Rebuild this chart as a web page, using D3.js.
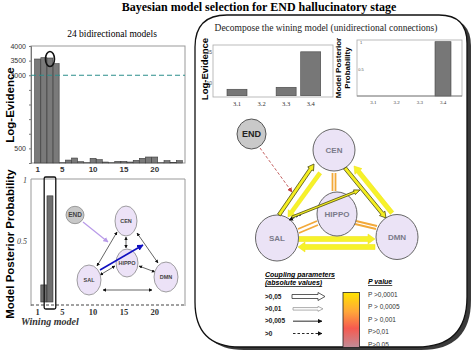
<!DOCTYPE html>
<html>
<head>
<meta charset="utf-8">
<script src="https://cdn.jsdelivr.net/npm/d3@7"></script>
<style>
  body { margin: 0; background: #fff; }
  svg { display: block; }
  text { font-family: "Liberation Sans", Arial, sans-serif; }
  .serif { font-family: "Liberation Serif", "Times New Roman", serif; }
</style>
</head>
<body>
<div id="chart"></div>
<script>
// ---- data ----
var models = d3.range(1, 25);
var logEvidence = [3555, 3600, 3590, 3395, 10, 100, 170, 44, 10, 160, 113, 33,
                   10, 56, 56, 33, 90, 160, 205, 205, 10, 79, 22, 79];
var posterior = [0, 0.14, 0.87, 0, 0, 0, 0, 0, 0, 0, 0, 0,
                 0, 0, 0, 0, 0, 0, 0, 0, 0, 0, 0, 0];
var modelTicks = [1, 5, 10, 15, 20];
var logEvTicks = [500, 1000, 1500, 2000, 2500, 3000, 3500, 4000];
var logEvLabels = [500, 3000, 3500, 4000];

var subModels = ["3.1", "3.2", "3.3", "3.4"];
var subLogEvidence = [5.2, 0, 6.8, 35.5];
var subPosterior = [0, 0, 0, 1];

var couplingLabels = [">0,05", ">0,01", ">0,005", ">0"];
var pLabels = ["P >0,0001", "P > 0,0005", "P > 0,001", "P>0,01", "P>0,05"];

var W = 474, H = 352;
var svg = d3.select("#chart").append("svg")
    .attr("width", W).attr("height", H);

var defs = svg.append("defs");
function marker(id, color, size){
    defs.append("marker")
        .attr("id", id)
        .attr("viewBox", "0 0 10 10")
        .attr("refX", 9).attr("refY", 5)
        .attr("markerWidth", size).attr("markerHeight", size)
        .attr("orient", "auto-start-reverse")
        .append("path").attr("d", "M0,0L10,5L0,10Z").attr("fill", color);
}
marker("blk", "#111", 5);
marker("blu", "#1010c0", 4);
marker("lil", "#b89ae8", 4);
marker("red", "#c04040", 5);

// title
svg.append("text").attr("class", "serif")
    .attr("x", 259).attr("y", 10.5)
    .attr("text-anchor", "middle")
    .attr("font-size", 12).attr("font-weight", "bold")
    .text("Bayesian model selection for END hallucinatory stage");

svg.append("text").attr("class", "serif")
    .attr("x", 112).attr("y", 37)
    .attr("text-anchor", "middle").attr("font-size", 9.5)
    .text("24 bidirectional models");

// ---------- left top: log evidence ----------
var x = d3.scaleLinear().domain([0, 25]).range([31.5, 185.5]);
var yLE = d3.scaleLinear().domain([0, 4000]).range([163, 46]);
var barW = 6;

var g1 = svg.append("g");
g1.append("rect").attr("x", 31).attr("y", 46).attr("width", 154).attr("height", 117)
    .attr("fill", "none").attr("stroke", "#999");

g1.append("g")
    .attr("transform", "translate(31,0)")
    .call(d3.axisLeft(yLE).tickValues(logEvTicks).tickSize(2)
        .tickFormat(function(d){ return logEvLabels.indexOf(d) >= 0 ? d : ""; }))
    .call(function(a){
        a.select(".domain").attr("stroke", "#777");
        a.selectAll("line").attr("stroke", "#777");
        a.selectAll("text").attr("font-size", 7).attr("fill", "#333");
    });

g1.selectAll(".le").data(logEvidence).join("rect")
    .attr("x", function(d, i){ return x(models[i]) - barW / 2; })
    .attr("y", function(d){ return yLE(d); })
    .attr("width", barW)
    .attr("height", function(d){ return yLE(0) - yLE(d); })
    .attr("fill", "#7a7a7a").attr("stroke", "#3a3a3a").attr("stroke-width", 0.6);

g1.append("line")
    .attr("x1", 31).attr("x2", 185).attr("y1", yLE(3000)).attr("y2", yLE(3000))
    .attr("stroke", "#2d8f8c").attr("stroke-width", 1.2).attr("stroke-dasharray", "5,3");

g1.append("ellipse").attr("cx", x(3)).attr("cy", yLE(3590) + 1)
    .attr("rx", 4.5).attr("ry", 7.5)
    .attr("fill", "none").attr("stroke", "#111").attr("stroke-width", 1.6);

g1.selectAll(".xt").data(modelTicks).join("text")
    .attr("x", function(d){ return x(d); }).attr("y", 172)
    .attr("text-anchor", "middle").attr("font-size", 8).attr("font-weight", "bold")
    .attr("fill", "#333").text(function(d){ return d; });

svg.append("text")
    .attr("transform", "translate(14,105) rotate(-90)")
    .attr("text-anchor", "middle").attr("font-size", 11.5).attr("font-weight", "bold")
    .text("Log-Evidence");

// ---------- left bottom: posterior ----------
var yPP = d3.scaleLinear().domain([0, 1]).range([302, 180]);
var g2 = svg.append("g");
g2.append("path").attr("d", "M31,306V179H185V306")
    .attr("fill", "none").attr("stroke", "#999");
g2.append("line").attr("x1", 31).attr("x2", 185).attr("y1", 305).attr("y2", 305)
    .attr("stroke", "#444").attr("stroke-width", 1.2).attr("stroke-dasharray", "3,2");

g2.selectAll(".pp").data(posterior).join("rect")
    .attr("x", function(d, i){ return x(models[i]) - barW / 2; })
    .attr("y", function(d){ return yPP(d); })
    .attr("width", barW)
    .attr("height", function(d){ return yPP(0) - yPP(d); })
    .attr("fill", "#6e6e6e").attr("stroke", "#333").attr("stroke-width", 0.6);

g2.append("rect").attr("x", x(3) - 5.8).attr("y", 177).attr("width", 11.6).attr("height", 132)
    .attr("rx", 1.5).attr("fill", "none").attr("stroke", "#111").attr("stroke-width", 1.3);

g2.selectAll(".yt").data([1, 0.5]).join("text").attr("class", "serif")
    .attr("x", 27).attr("y", function(d){ return yPP(d) + 3; })
    .attr("text-anchor", "end").attr("font-size", 8).attr("font-style", "italic")
    .attr("fill", "#444").text(function(d){ return d; });

g2.selectAll(".xt").data(modelTicks).join("text").attr("class", "serif")
    .attr("x", function(d){ return x(d); }).attr("y", 315)
    .attr("text-anchor", "middle").attr("font-size", 8.5).attr("font-weight", "bold")
    .attr("fill", "#333").text(function(d){ return d; });

svg.append("text").attr("class", "serif")
    .attr("x", 21).attr("y", 325)
    .attr("font-size", 10).attr("font-style", "italic").attr("font-weight", "bold")
    .attr("fill", "#333").text("Wining model");

svg.append("text")
    .attr("transform", "translate(14,244) rotate(-90)")
    .attr("text-anchor", "middle").attr("font-size", 11.5).attr("font-weight", "bold")
    .text("Model Posterior Probability");

// small network inset
var small = {
    END: {x: 75, y: 215, rx: 9, ry: 8.7, fill: "#c8c8c8"},
    CEN: {x: 126, y: 221, rx: 11, ry: 15, fill: "#ece2f7"},
    HIPPO: {x: 127, y: 263, rx: 11, ry: 14, fill: "#ece2f7"},
    SAL: {x: 89, y: 280, rx: 12, ry: 15, fill: "#ece2f7"},
    DMN: {x: 166, y: 277, rx: 12, ry: 15, fill: "#ece2f7"}
};
var gs = svg.append("g");
var smallLinks = [
    [97, 266, 117, 232], [137, 233, 158, 263], [126, 237, 126, 248],
    [100, 275, 115, 266], [139, 266, 155, 272], [103, 290, 152, 290]
];
gs.selectAll(".sl").data(smallLinks).join("line")
    .attr("x1", function(d){ return d[0]; }).attr("y1", function(d){ return d[1]; })
    .attr("x2", function(d){ return d[2]; }).attr("y2", function(d){ return d[3]; })
    .attr("stroke", "#222").attr("stroke-width", 0.7)
    .attr("marker-start", "url(#blk)").attr("marker-end", "url(#blk)");
gs.append("line").attr("x1", 83).attr("y1", 222).attr("x2", 108).attr("y2", 242)
    .attr("stroke", "#b89ae8").attr("stroke-width", 1.3).attr("marker-end", "url(#lil)");
Object.keys(small).forEach(function(k){
    var n = small[k];
    gs.append("ellipse").attr("cx", n.x).attr("cy", n.y).attr("rx", n.rx).attr("ry", n.ry)
        .attr("fill", n.fill).attr("stroke", "#888").attr("stroke-width", 0.8);
    gs.append("text").attr("x", n.x).attr("y", n.y + 2.2).attr("text-anchor", "middle")
        .attr("font-size", k == "END" ? 6.5 : 5.5).attr("font-weight", "bold")
        .attr("fill", "#444").text(k);
});
gs.append("line").attr("x1", 100).attr("y1", 270).attr("x2", 143).attr("y2", 245)
    .attr("stroke", "#1010c0").attr("stroke-width", 1.6).attr("marker-end", "url(#blu)");

// ---------- right panel ----------
var L = 195, T = 15, R = 467, B = 347;
function panelPath(dx, dy){
    var l = L + dx, t = T + dy, r = R + dx, b = B + dy;
    return "M" + (l + 32) + "," + t + "H" + (r - 28) +
        "Q" + r + "," + t + " " + r + "," + (t + 28) +
        "V" + (b - 50) + "Q" + r + "," + b + " " + (r - 50) + "," + b +
        "H" + (l + 45) + "Q" + l + "," + b + " " + l + "," + (b - 45) +
        "V" + (t + 32) + "Q" + l + "," + t + " " + (l + 32) + "," + t + "Z";
}
svg.append("path").attr("d", panelPath(4, 3)).attr("fill", "#3a3a3a");
svg.append("path").attr("d", panelPath(0, 0)).attr("fill", "#fff")
    .attr("stroke", "#111").attr("stroke-width", 1.3);

svg.append("text").attr("class", "serif")
    .attr("x", 326).attr("y", 31).attr("text-anchor", "middle").attr("font-size", 9.5)
    .attr("fill", "#222").text("Decompose the wining model (unidirectional connections)");

// inner log evidence
var xa = d3.scaleLinear().domain([3.1, 3.4]).range([237, 310.7]);
var ya = d3.scaleLinear().domain([0, 41]).range([95.7, 45]);
var ga = svg.append("g");
ga.append("rect").attr("x", 213).attr("y", 45).attr("width", 120).attr("height", 52)
    .attr("fill", "none").attr("stroke", "#aaa").attr("stroke-width", 0.8);
ga.selectAll("rect.b").data(subLogEvidence).join("rect").attr("class", "b")
    .attr("x", function(d, i){ return xa(+subModels[i]) - 10; })
    .attr("y", function(d){ return ya(d); })
    .attr("width", 20)
    .attr("height", function(d){ return ya(0) - ya(d); })
    .attr("fill", "#777").attr("stroke", "#444").attr("stroke-width", 0.6);
ga.selectAll(".yt").data([35, 10]).join("text")
    .attr("x", 212).attr("y", function(d){ return ya(d) + 2; })
    .attr("text-anchor", "end").attr("font-size", 5).attr("fill", "#555")
    .text(function(d){ return d; });
ga.selectAll(".xt").data(subModels).join("text").attr("class", "serif")
    .attr("x", function(d){ return xa(+d); }).attr("y", 106)
    .attr("text-anchor", "middle").attr("font-size", 6.5).attr("fill", "#333")
    .text(function(d){ return d; });
svg.append("text")
    .attr("transform", "translate(208,69) rotate(-90)")
    .attr("text-anchor", "middle").attr("font-size", 9.5).attr("font-weight", "bold")
    .text("Log-Evidence");

// inner posterior
var xb = d3.scaleLinear().domain([3.1, 3.4]).range([373.3, 443]);
var yb = d3.scaleLinear().domain([0, 1]).range([96, 41.7]);
var gb = svg.append("g");
gb.append("rect").attr("x", 357).attr("y", 40).attr("width", 105).attr("height", 56)
    .attr("fill", "none").attr("stroke", "#aaa").attr("stroke-width", 0.8);
gb.selectAll("rect.b").data(subPosterior).join("rect").attr("class", "b")
    .attr("x", function(d, i){ return xb(+subModels[i]) - 8; })
    .attr("y", function(d){ return yb(d); })
    .attr("width", 16)
    .attr("height", function(d){ return yb(0) - yb(d); })
    .attr("fill", "#777").attr("stroke", "#444").attr("stroke-width", 0.6);
gb.append("line").attr("x1", 357).attr("x2", 462).attr("y1", 96).attr("y2", 96)
    .attr("stroke", "#777").attr("stroke-width", 0.8);
gb.selectAll(".yt").data([1, 0.5]).join("text")
    .attr("x", 361).attr("y", function(d){ return yb(d) + 2; })
    .attr("text-anchor", "middle").attr("font-size", 4).attr("fill", "#555")
    .text(function(d){ return d; });
gb.selectAll(".xt").data(subModels).join("text").attr("class", "serif")
    .attr("x", function(d){ return xb(+d); }).attr("y", 104)
    .attr("text-anchor", "middle").attr("font-size", 5).attr("fill", "#333")
    .text(function(d){ return d; });
svg.append("text")
    .attr("transform", "translate(343,68) rotate(-90)")
    .attr("text-anchor", "middle").attr("font-size", 8).attr("font-weight", "bold")
    .selectAll("tspan").data(["Model Posterior", "Probability"]).join("tspan")
    .attr("x", 0).attr("dy", function(d, i){ return i ? 9 : -2; }).text(function(d){ return d; });

// big network
function blockArrow(x1, y1, x2, y2, w, hw, hl){
    var dx = x2 - x1, dy = y2 - y1, len = Math.hypot(dx, dy);
    var ux = dx / len, uy = dy / len, nx = -uy, ny = ux;
    var pts = [[0, w / 2], [len - hl, w / 2], [len - hl, hw / 2], [len, 0],
               [len - hl, -hw / 2], [len - hl, -w / 2], [0, -w / 2]];
    return "M" + pts.map(function(p){
        return [x1 + ux * p[0] + nx * p[1], y1 + uy * p[0] + ny * p[1]].join(",");
    }).join("L") + "Z";
}
var gn = svg.append("g");
// bright yellow (no outline)
var brightLinks = [
    [320, 173, 288, 217, 4, 8, 6], [392, 213, 354, 166, 4.5, 9, 7],
    [298, 239, 375, 239, 5, 10, 7], [375, 247, 298, 247, 5, 10, 7]
];
gn.selectAll(".bright").data(brightLinks).join("path")
    .attr("d", function(d){ return blockArrow(d[0], d[1], d[2], d[3], d[4], d[5], d[6]); })
    .attr("fill", "#f6f22a").attr("stroke", "#f0e010").attr("stroke-width", 0.5);
// orange short links
var orangeLinks = [
    [332.5, 173, 332.5, 191], [335.5, 173, 335.5, 191],
    [298, 229, 317, 221], [299, 233, 318, 225],
    [356, 221, 377, 226], [355, 224, 376, 229]
];
gn.selectAll(".org").data(orangeLinks).join("line")
    .attr("x1", function(d){ return d[0]; }).attr("y1", function(d){ return d[1]; })
    .attr("x2", function(d){ return d[2]; }).attr("y2", function(d){ return d[3]; })
    .attr("stroke", "#f2a93a").attr("stroke-width", 1.8);
// red dashed END input
gn.append("line").attr("x1", 260).attr("y1", 148).attr("x2", 292).attr("y2", 192)
    .attr("stroke", "#c46060").attr("stroke-width", 1).attr("stroke-dasharray", "3,2")
    .attr("marker-end", "url(#red)");

var big = {
    END: {x: 251.5, y: 134, rx: 14.5, ry: 15, fill: "#c9c9c9", stroke: "#555"},
    CEN: {x: 334, y: 150, rx: 21, ry: 21, fill: "#ebe3f6", stroke: "#666"},
    HIPPO: {x: 337, y: 214, rx: 20, ry: 22, fill: "#ebe3f6", stroke: "#666"},
    SAL: {x: 277, y: 238, rx: 21.5, ry: 23, fill: "#ebe3f6", stroke: "#666"},
    DMN: {x: 397, y: 237, rx: 21, ry: 22.5, fill: "#ebe3f6", stroke: "#666"}
};
Object.keys(big).forEach(function(k){
    var n = big[k];
    gn.append("ellipse").attr("cx", n.x).attr("cy", n.y).attr("rx", n.rx).attr("ry", n.ry)
        .attr("fill", n.fill).attr("stroke", n.stroke).attr("stroke-width", 1);
    gn.append("text").attr("x", n.x).attr("y", n.y + 3).attr("text-anchor", "middle")
        .attr("font-size", k == "END" ? 9 : 8).attr("font-weight", "bold")
        .attr("fill", k == "END" ? "#222" : "#7a7a8a").text(k);
});
// outlined yellow arrows (on top)
var outlinedLinks = [
    [279, 215, 314, 164, 3.5, 7, 6], [345, 168, 386, 218, 3.5, 7, 6],
    [292, 217, 360, 190, 2, 5, 6]
];
gn.selectAll(".outl").data(outlinedLinks).join("path")
    .attr("d", function(d){ return blockArrow(d[0], d[1], d[2], d[3], d[4], d[5], d[6]); })
    .attr("fill", "#f4ee20").attr("stroke", "#4a4a10").attr("stroke-width", 0.8);
gn.append("line").attr("x1", 301).attr("y1", 215).attr("x2", 289).attr("y2", 220)
    .attr("stroke", "#222").attr("stroke-width", 0.9).attr("stroke-dasharray", "2,1.5")
    .attr("marker-end", "url(#blk)");

// legend
var gl = svg.append("g");
gl.append("text").attr("x", 265).attr("y", 277).attr("font-size", 7)
    .attr("font-weight", "bold").attr("font-style", "italic")
    .attr("text-decoration", "underline").text("Coupling parameters");
gl.append("text").attr("x", 265).attr("y", 285).attr("font-size", 7)
    .attr("font-weight", "bold").attr("font-style", "italic")
    .attr("text-decoration", "underline").text("(absolute values)");
gl.append("text").attr("x", 368).attr("y", 284).attr("font-size", 7)
    .attr("font-weight", "bold").attr("font-style", "italic")
    .attr("text-decoration", "underline").text("P value");

var rowY = d3.scalePoint().domain(couplingLabels).range([296.5, 333.5]);
gl.selectAll(".cl").data(couplingLabels).join("text")
    .attr("x", 265).attr("y", function(d){ return rowY(d) + 2; })
    .attr("font-size", 6.5).attr("font-weight", "bold").attr("fill", "#222")
    .text(function(d){ return d; });
gl.append("path").attr("d", blockArrow(292, rowY(">0,05"), 325, rowY(">0,05"), 4, 8, 7))
    .attr("fill", "#fff").attr("stroke", "#333").attr("stroke-width", 0.8);
gl.append("path").attr("d", blockArrow(293, rowY(">0,01"), 323, rowY(">0,01"), 2.5, 5, 5))
    .attr("fill", "#fff").attr("stroke", "#999").attr("stroke-width", 0.8);
gl.append("line").attr("x1", 293).attr("x2", 322).attr("y1", rowY(">0,005")).attr("y2", rowY(">0,005"))
    .attr("stroke", "#111").attr("stroke-width", 0.9).attr("marker-end", "url(#blk)");
gl.append("line").attr("x1", 293).attr("x2", 322).attr("y1", rowY(">0")).attr("y2", rowY(">0"))
    .attr("stroke", "#111").attr("stroke-width", 0.9).attr("stroke-dasharray", "2.5,2")
    .attr("marker-end", "url(#blk)");

var grad = defs.append("linearGradient").attr("id", "pg")
    .attr("x1", 0).attr("y1", 0).attr("x2", 0).attr("y2", 1);
[["0%", "#ffe400"], ["35%", "#ffa63a"], ["65%", "#f65a50"], ["100%", "#c08c98"]]
    .forEach(function(s){ grad.append("stop").attr("offset", s[0]).attr("stop-color", s[1]); });
gl.append("rect").attr("x", 343).attr("y", 292.5).attr("width", 16.5).attr("height", 55)
    .attr("fill", "url(#pg)").attr("stroke", "#222").attr("stroke-width", 0.8);

var pY = d3.scalePoint().domain(pLabels).range([296.5, 347]);
gl.selectAll(".pl").data(pLabels).join("text")
    .attr("x", 368).attr("y", function(d){ return pY(d); })
    .attr("font-size", 6.5).attr("fill", "#333")
    .text(function(d){ return d; });
</script>
</body>
</html>
